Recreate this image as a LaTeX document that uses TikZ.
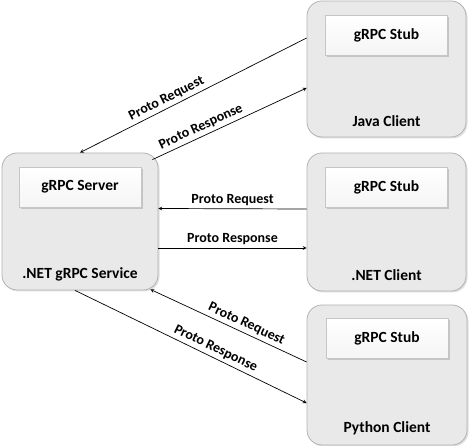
\documentclass[tikz,border=0pt]{standalone}
\usepackage{fontspec}
\setmainfont{Carlito}
\usetikzlibrary{positioning, arrows, shadows}

\begin{document}
\begin{tikzpicture}[x=1pt, y=-1pt]
\tikzset{
>=stealth, % small filled arrow heads
appbox/.style={draw=gray!60, fill=gray!17, rounded corners=15pt, line width=0.8pt,
  drop shadow={shadow xshift=1.5pt, shadow yshift=-1.5pt, opacity=0.25}}, % outer boxes
stubbox/.style={draw=gray!45, line width=1pt, top color=white, bottom color=gray!8,
  minimum width=122pt, minimum height=40pt, font=\fontsize{15.5}{18}\selectfont\bfseries,
  drop shadow={shadow xshift=1.5pt, shadow yshift=-1.5pt, opacity=0.35}}, % inner boxes
boxtext/.style={font=\fontsize{15.5}{18}\selectfont\bfseries}, % box captions
msg/.style={font=\fontsize{14}{16}\selectfont\bfseries, sloped, above, inner sep=3pt}, % arrow labels
}
\useasboundingbox (0,0) rectangle (474,446);

	\node[appbox, minimum width=156pt, minimum height=137pt] (server) at (80,221.5) {};
	\node[appbox, minimum width=159pt, minimum height=136pt] (java) at (386.5,69) {};
	\node[appbox, minimum width=159pt, minimum height=138pt] (netc) at (386.5,222) {};
	\node[appbox, minimum width=160pt, minimum height=140pt] (python) at (387,375) {};

	\node[stubbox, below=14pt of server.north] (srv) {gRPC Server};
	\node[stubbox, below=14pt of java.north] (javastub) {gRPC Stub};
	\node[stubbox, below=14pt of netc.north] (netstub) {gRPC Stub};
	\node[stubbox, below=13pt of python.north] (pystub) {gRPC Stub};

	\node[boxtext] (serverlbl) at ([yshift=16pt]server.south) {.NET gRPC Service};
	\node[boxtext] (javalbl) at ([yshift=16pt]java.south) {Java Client};
	\node[boxtext] (netlbl) at ([yshift=16pt]netc.south) {.NET Client};
	\node[boxtext] (pylbl) at ([yshift=17pt]python.south) {Python Client};

	% Java client
	\draw[->, line width=0.7pt] ([yshift=31pt]java.west) -- node[msg, pos=0.6]{Proto Request} (server.north);
	\draw[->, line width=0.7pt] ([xshift=-6pt, yshift=-7pt]server.north east) -- node[msg, pos=0.34]{Proto Response} ([yshift=-19pt]java.west);
	% .NET client
	\draw[->, line width=0.7pt] ([yshift=13pt]netc.west) -- node[msg]{Proto Request} ([yshift=13pt]server.east);
	\draw[->, line width=0.7pt] ([yshift=-26.5pt]server.east) -- node[msg]{Proto Response} ([yshift=-26pt]netc.west);
	% Python client
	\draw[->, line width=0.7pt] ([yshift=13pt]python.west) -- node[msg, pos=0.41]{Proto Request} ([xshift=-8pt, yshift=1pt]server.south east);
	\draw[->, line width=0.7pt] ([xshift=-5pt]server.south) -- node[msg, pos=0.59]{Proto Response} ([yshift=-28pt]python.west);
\end{tikzpicture}
\end{document}
